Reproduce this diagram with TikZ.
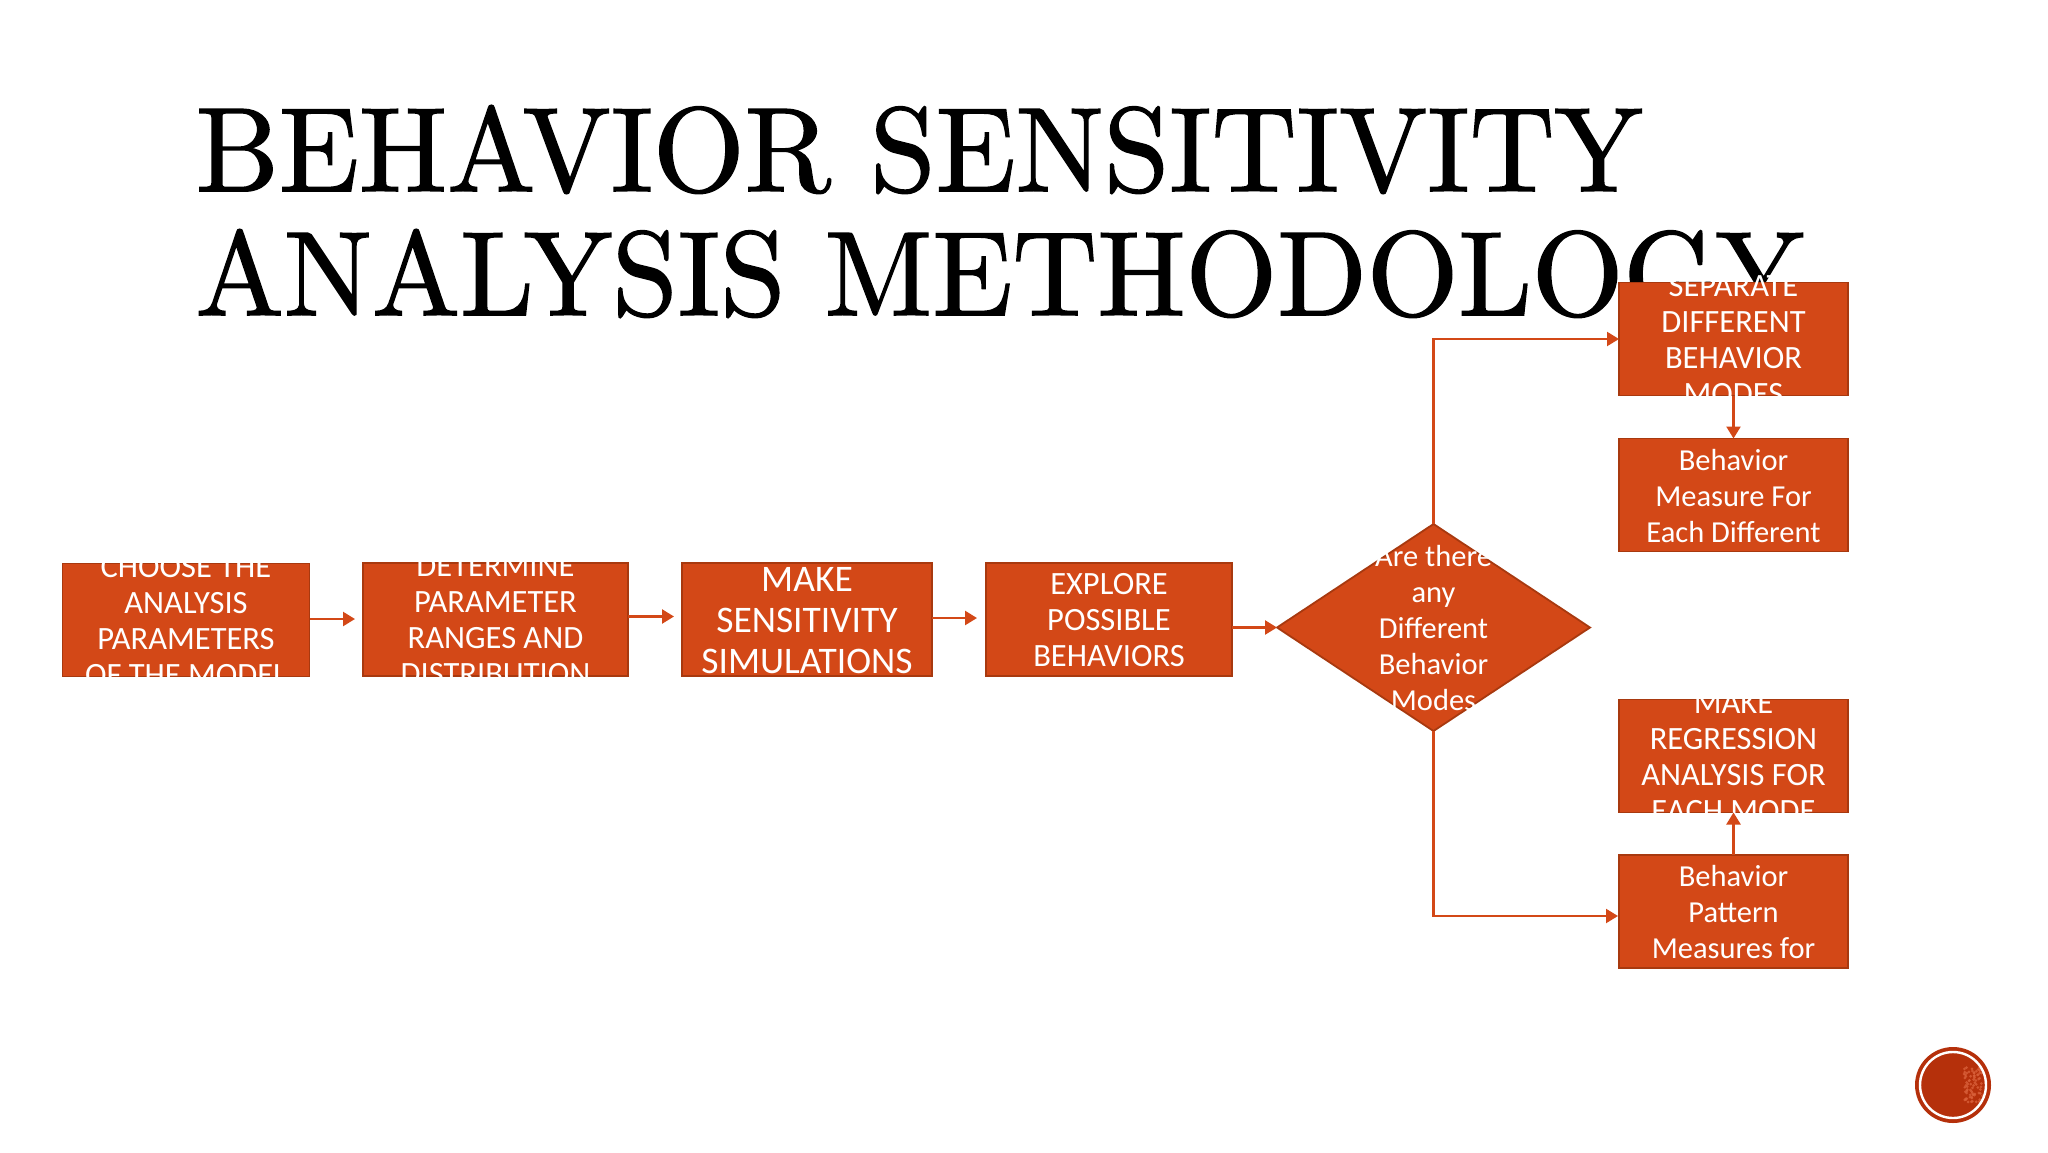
\documentclass[tikz,border=0pt]{standalone}
\usepackage{fontspec}
\newfontfamily\bodyfont{Carlito}
\newfontfamily\titlefont[Extension=.otf,RawFeature={embolden=1.2;extend=0.98}]{lmroman10-regular}
\usetikzlibrary{arrows.meta,shapes.geometric}
\definecolor{rust}{HTML}{D34817}
\definecolor{rustdark}{HTML}{A8390F}
\definecolor{badge}{HTML}{B5300B}
\definecolor{badgelight}{HTML}{D9603A}
\tikzset{
  flowbox/.style={draw=rustdark,fill=rust,line width=1.8pt,inner sep=0pt,outer sep=0pt},
  flowdiamond/.style={diamond,flowbox},
  lbl/.style={text=white,align=center,inner sep=0pt,font=\bodyfont\fontsize{30.5}{36}\selectfont},
  lblcaps/.style={lbl,font=\bodyfont\fontsize{32.5}{36}\selectfont},
  lblbig/.style={lbl,font=\bodyfont\fontsize{37.5}{41}\selectfont},
  conn/.style={draw=rust,line width=2.4pt,-{Triangle[length=12pt,width=14pt]}},
  thinconn/.style={conn,line width=2.1pt},
  titletext/.style={text=black,align=left,anchor=north west,inner sep=0pt,font=\titlefont\fontsize{120}{124}\selectfont},
}
\begin{document}
\begin{tikzpicture}[x=1pt,y=-1pt]
\useasboundingbox (0,0) rectangle (2048,1152);
\fill[white] (0,0) rectangle (2048,1152);
\node[titletext] (title) at (195.5,105) {BEHAVIOR SENSITIVITY\\ANALYSIS METHODOLOGY};
\node[flowbox,minimum width=247pt,minimum height=113pt] (a) at (186,620) {};
\node[flowbox,minimum width=265pt,minimum height=113pt] (b) at (495.5,619.5) {};
\node[flowbox,minimum width=250pt,minimum height=113pt] (c) at (807,619.5) {};
\node[flowbox,minimum width=246pt,minimum height=113pt] (d) at (1109,619.5) {};
\node[flowdiamond,aspect=1.52,minimum width=313pt,minimum height=207pt] (q) at (1433.5,627.5) {};
\node[flowbox,minimum width=229pt,minimum height=113pt] (e) at (1733.5,339) {};
\node[flowbox,minimum width=229pt,minimum height=113pt] (f) at (1733.5,495) {};
\node[flowbox,minimum width=229pt,minimum height=113pt] (g) at (1733.5,756) {};
\node[flowbox,minimum width=229pt,minimum height=113pt] (h) at (1733.5,911.5) {};
\node[lblcaps,yshift=-1.5pt] (al) at (a) {CHOOSE THE\\ANALYSIS\\PARAMETERS\\OF THE MODEL};
\node[lblcaps,yshift=-1pt] (bl) at (b) {DETERMINE\\PARAMETER\\RANGES AND\\DISTRIBUTION};
\node[lblbig,yshift=-1pt] (cl) at (c) {MAKE\\SENSITIVITY\\SIMULATIONS};
\node[lblcaps,yshift=-1pt] (dl) at (d) {EXPLORE\\POSSIBLE\\BEHAVIORS};
\node[lbl,yshift=-1pt] (ql) at (q) {Are there\\any\\Different\\Behavior\\Modes};
\node[lblcaps,yshift=-1pt] (el) at (e) {SEPARATE\\DIFFERENT\\BEHAVIOR\\MODES};
\node[lbl,yshift=-1pt] (fl) at (f) {Behavior\\Measure For\\Each Different};
\node[lblcaps,yshift=-1pt] (gl) at (g) {MAKE\\REGRESSION\\ANALYSIS FOR\\EACH MODE};
\node[lbl,yshift=-1pt] (hl) at (h) {Behavior\\Pattern\\Measures for};
\coordinate (abend) at (355,619);
\coordinate (bcend) at (674,616.5);
\coordinate (cdend) at (977,618);
\coordinate (qdturn) at (1433.5,916);
\coordinate (hin) at (1618,916);
\draw[conn] (a.east |- abend) -- (abend);
\draw[conn] (b.east |- bcend) -- (bcend);
\draw[conn] (c.east |- cdend) -- (cdend);
\draw[conn] (d.east |- q) -- (q.west);
\draw[thinconn] (q.north) |- (e.west);
\draw[thinconn] (q.south) -- (qdturn) -- (hin);
\draw[conn] (e.south) -- (f.north);
\draw[conn] (h.north) -- (g.south);
\node[circle,fill=badge,minimum size=76pt,inner sep=0pt] (badgeouter) at (1953,1085) {};
\begin{scope}
\clip (1953,1085) circle (32pt);
\pgfmathsetseed{7}
\foreach \i in {1,...,90}{
  \pgfmathsetmacro{\px}{1964+24*rnd}
  \pgfmathsetmacro{\py}{1085+36*(rnd-0.5)}
  \fill[badgelight,opacity=0.8] (\px,\py) circle (1.5pt);
}
\end{scope}
\node[circle,draw=white,line width=2.4pt,minimum size=66pt,inner sep=0pt] (badgering) at (1953,1085) {};
\end{tikzpicture}
\end{document}
